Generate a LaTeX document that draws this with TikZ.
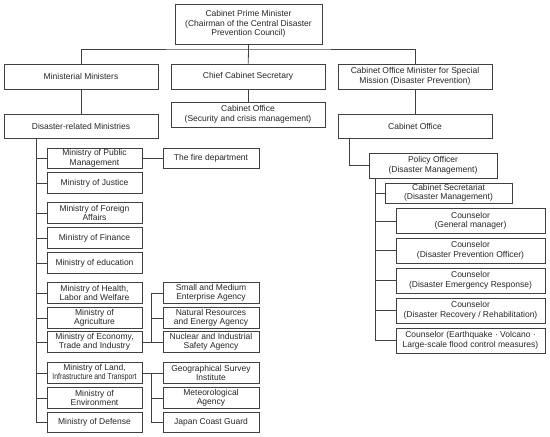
\documentclass[tikz,border=0pt]{standalone}
\usepackage{fontspec}
\setmainfont{Liberation Sans}
\usepackage{graphicx}
\usetikzlibrary{positioning}
\usetikzlibrary{calc}

\begin{document}
\begin{tikzpicture}[x=1pt, y=-1pt]
        % Define styles for shapes
        \tikzstyle{box} = [draw=black!75, line width=0.8pt, align=center, inner sep=0pt, text=black!85, font=\fontsize{8.5}{9.5}\selectfont]
        \tikzstyle{headbox} = [box, minimum width=154pt, minimum height=25pt]
        \tikzstyle{ministry} = [box, minimum width=95pt, minimum height=20.5pt]
        \tikzstyle{agency} = [box, minimum width=96pt, minimum height=20.5pt]
        \tikzstyle{counselor} = [box, minimum width=149pt, minimum height=25pt]
        \tikzstyle{link} = [draw=black!75, line width=0.8pt]
        \useasboundingbox (0,0) rectangle (550,437);

        % Draw shapes: top levels
        \node[box, minimum width=147pt, minimum height=40pt] (pm) at (248.5, 24) {Cabinet Prime Minister\\(Chairman of the Central Disaster\\Prevention Council)};
        \node[headbox] (mm) at (81, 76.5) {Ministerial Ministers};
        \node[headbox] (ccs) at (248, 76.5) {Chief Cabinet Secretary};
        \node[headbox] (com) at (415, 76.5) {Cabinet Office Minister for Special\\Mission (Disaster Prevention)};
        \node[headbox, minimum height=24pt] (drm) at (81, 126) {Disaster-related Ministries};
        \node[headbox] (cos) at (248, 114.5) {Cabinet Office\\(Security and crisis management)};
        \node[headbox, minimum height=24pt] (cor) at (415, 126) {Cabinet Office};

        % Ministries
        \node[ministry] (pub) at (94.5, 158.5) {Ministry of Public\\Management};
        \node[ministry] (jus) at (94.5, 183) {Ministry of Justice};
        \node[ministry] (for) at (94.5, 213) {Ministry of Foreign\\Affairs};
        \node[ministry] (fin) at (94.5, 238) {Ministry of Finance};
        \node[ministry] (edu) at (94.5, 263) {Ministry of education};
        \node[ministry] (hea) at (94.5, 293) {Ministry of Health,\\Labor and Welfare};
        \node[ministry] (agr) at (94.5, 318) {Ministry of\\Agriculture};
        \node[ministry] (eco) at (94.5, 342) {Ministry of Economy,\\Trade and Industry};
        \node[ministry] (lan) at (94.5, 373) {Ministry of Land,\\\scalebox{0.8}[1]{Infrastructure and Transport}};
        \node[ministry] (env) at (94.5, 398) {Ministry of\\Environment};
        \node[ministry] (def) at (94.5, 422.5) {Ministry of Defense};

        % Agencies
        \node[agency] (fire) at (211, 158.5) {The fire department};
        \node[agency] (sme) at (211, 293) {Small and Medium\\Enterprise Agency};
        \node[agency] (nre) at (211, 318) {Natural Resources\\and Energy Agency};
        \node[agency] (nis) at (211, 342) {Nuclear and Industrial\\Safety Agency};
        \node[agency] (gsi) at (211, 373) {Geographical Survey\\Institute};
        \node[agency] (met) at (211, 398) {Meteorological\\Agency};
        \node[agency] (jcg) at (211, 422.5) {Japan Coast Guard};

        % Cabinet Office branch
        \node[box, minimum width=128pt, minimum height=25pt] (pol) at (433, 165.5) {Policy Officer\\(Disaster Management)};
        \node[box, minimum width=127pt, minimum height=20pt] (sec) at (448.5, 193) {Cabinet Secretariat\\(Disaster Management)};
        \node[counselor] (cgm) at (470.5, 221) {Counselor\\(General manager)};
        \node[counselor] (cdp) at (470.5, 250.5) {Counselor\\(Disaster Prevention Officer)};
        \node[counselor] (cer) at (470.5, 280.5) {Counselor\\(Disaster Emergency Response)};
        \node[counselor] (crr) at (470.5, 310.5) {Counselor\\(Disaster Recovery / Rehabilitation)};
        \node[counselor] (ceq) at (470.5, 340.5) {Counselor (Earthquake · Volcano ·\\Large-scale flood control measures)};

        % Draw lines
        \coordinate (bus) at (248.5, 49);
        \draw[link] (pm) -- (bus);
        \draw[link] (mm.north) |- (bus) -| (com.north);
        \draw[link] (bus) -- (ccs);
        \draw[link] (mm) -- (drm);
        \draw[link] (ccs) -- (cos);
        \draw[link] (com) -- (cor);

        % ministries spine
        \draw[link] ([xshift=-45pt]drm.south) |- (def.west);
        \foreach \m in {pub, jus, for, fin, edu, hea, agr, eco, lan, env}
            \draw[link] (\m.west) -- ++(-11, 0);
        \draw[link] (pub) -- (fire);
        \draw[link] (eco) -- (nis);
        \draw[link] (sme.west) -- ++(-11, 0) |- (nis.west);
        \draw[link] (nre.west) -- ++(-11, 0);
        \draw[link] (lan) -- (gsi);
        \draw[link] (gsi.west) -- ++(-11, 0) |- (jcg.west);
        \draw[link] (met.west) -- ++(-11, 0);

        % policy officer spine
        \draw[link] ([xshift=-66pt]cor.south) |- (pol.west);
        \draw[link] ([xshift=-58pt]pol.south) |- (ceq.west);
        \draw[link] (sec.west) -- ++(-10, 0);
        \foreach \c in {cgm, cdp, cer, crr}
            \draw[link] (\c.west) -- ++(-21, 0);
\end{tikzpicture}
\end{document}
